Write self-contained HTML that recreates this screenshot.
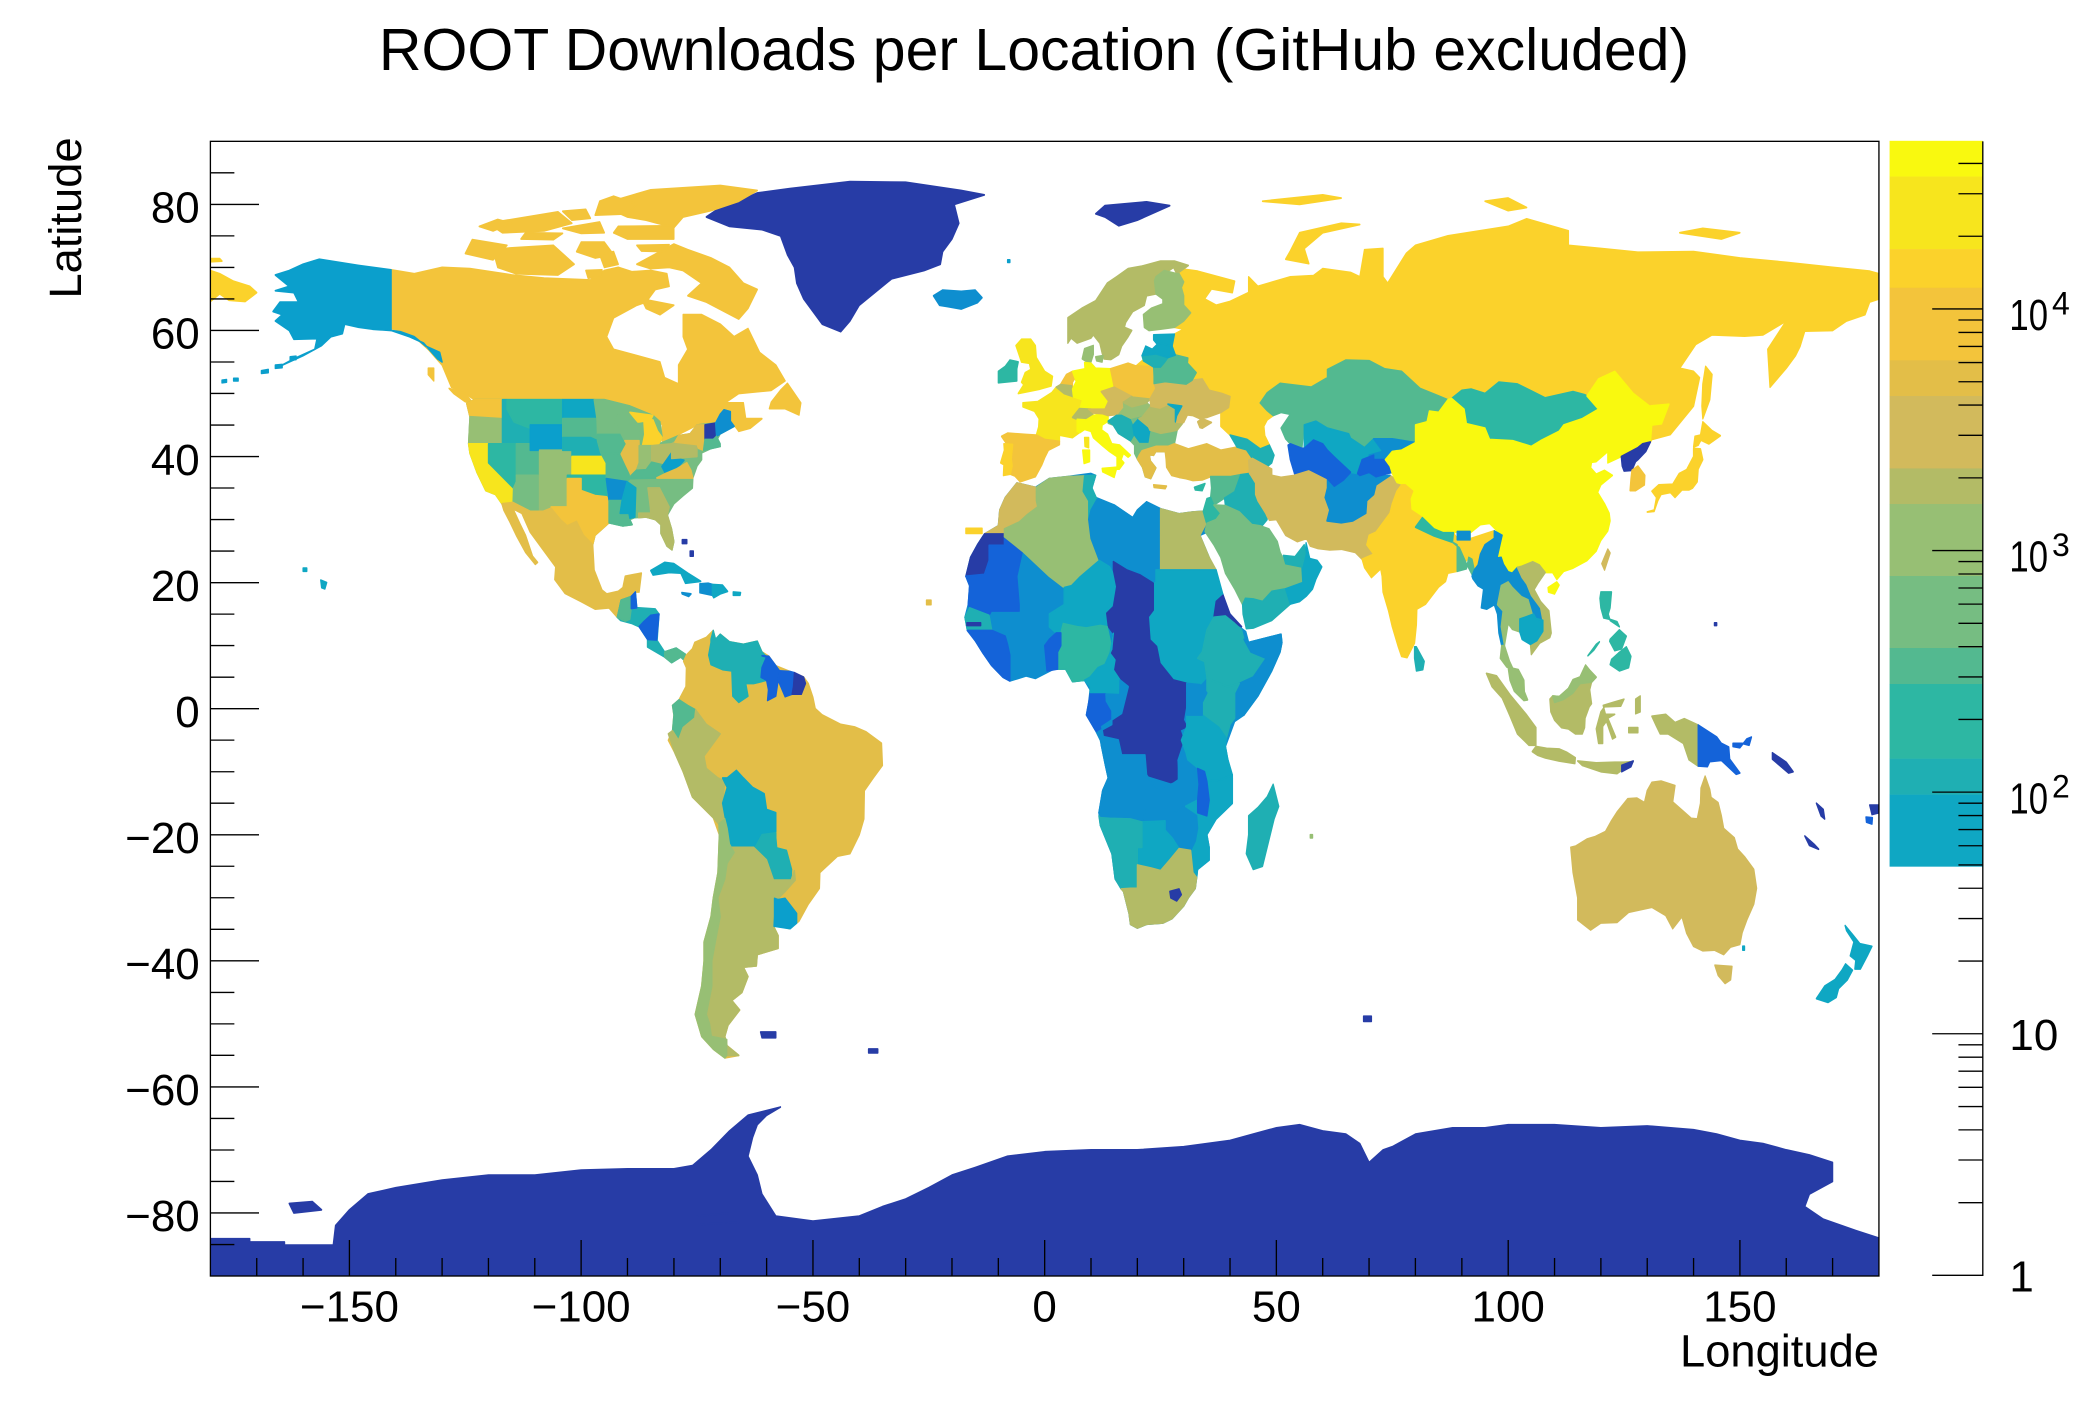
<!DOCTYPE html>
<html><head><meta charset="utf-8"><style>
html,body{margin:0;padding:0;background:#fff}
svg{display:block}
text{font-family:"Liberation Sans",Arial,sans-serif;fill:#000}
.m polygon{stroke-width:.28;stroke-linejoin:round}
.y1{fill:#f9f90f;stroke:#f9f90f}.y2{fill:#f7e51d;stroke:#f7e51d}.y3{fill:#fbd22b;stroke:#fbd22b}.y4{fill:#f3c43b;stroke:#f3c43b}
.g5{fill:#e3be48;stroke:#e3be48}.g6{fill:#d2ba5c;stroke:#d2ba5c}.o7{fill:#b3bb66;stroke:#b3bb66}.o8{fill:#97bf74;stroke:#97bf74}
.g9{fill:#76bd82;stroke:#76bd82}.g10{fill:#53b990;stroke:#53b990}.t11{fill:#2db7a3;stroke:#2db7a3}.t12{fill:#1fafb3;stroke:#1fafb3}
.c13{fill:#0fa7c3;stroke:#0fa7c3}.c14{fill:#0b9fcc;stroke:#0b9fcc}.b14{fill:#0e8ecf;stroke:#0e8ecf}.b15{fill:#1463d9;stroke:#1463d9}.n16{fill:#273ca6;stroke:#273ca6}
</style></head><body>
<svg width="2088" height="1416" viewBox="0 0 1568 1062" preserveAspectRatio="none" xmlns="http://www.w3.org/2000/svg">
<defs><clipPath id="pc"><rect x="158" y="106" width="1253" height="851"/></clipPath></defs>
<rect x="0" y="0" width="1568" height="1062" fill="#fff"/>
<g clip-path="url(#pc)">
<g class="m" transform="matrix(3.4806 0 0 -4.7278 784.5 531.5)">
<!-- Antarctica -->
<polygon class="n16" points="-180,-90 -180,-84.1 -171.5,-84.1 -171.5,-84.6 -164,-84.6 -164,-85.1 -153.5,-85.1 -153,-82 -150,-79.5 -146,-77 -140,-76 -130,-74.8 -120,-74 -110,-74 -100,-73.2 -90,-73 -80,-73 -76,-72.5 -72,-70 -68,-67 -64,-64.5 -57,-63.2 -60,-64.5 -62,-66 -63,-68 -64,-71 -62,-74 -61,-77 -58,-80.5 -50,-81.3 -40,-80.5 -35,-79 -30,-77.8 -25,-76 -20,-74 -15,-72.8 -8,-71 0,-70.3 10,-70 20,-70 30,-69.5 35,-69 40,-68.5 45,-67.5 50,-66.5 55,-66 60,-67 65,-67.5 68,-69 70,-72 73,-70 75,-69.5 80,-67.5 88,-66.5 95,-66.5 100,-66 110,-66 120,-66.5 130,-66.2 140,-66.8 145,-67.5 150,-68.5 155,-69 160,-70 165,-70.8 170,-72 170,-75 165,-77 164,-79 168,-81 175,-82.8 180,-84 180,-90"/>
<polygon class="n16" points="-163,-78.5 -158,-78.2 -156,-79.5 -162,-80"/>
<polygon class="n16" points="-75,-80.5 -68,-80 -66,-81.5 -74,-81.8"/>
<!-- Greenland, Iceland, Svalbard -->
<polygon class="n16" points="-73,78 -68,76.5 -61,76 -57,75 -55.5,72 -54,70 -53.5,67.5 -52,65 -50,63 -48,61 -44,59.8 -42,61.5 -40,64 -37,65.8 -33,68.2 -26,69.5 -22.5,70.5 -22,72.5 -20,74.5 -18.5,77 -19.5,80 -13,81.5 -18,82.2 -30,83.5 -42,83.6 -55,82.5 -62,81.8 -66,80.5 -71,79"/>
<polygon class="b14" points="-24,65.5 -22,66.4 -18,66.2 -15,66.4 -13.5,65.2 -14.5,64.4 -18,63.4 -21,63.8 -22.7,64"/>
<polygon class="n16" points="11,78.5 13,79.8 16,80 22,80.4 27,79.8 20,77.5 16,76.6 13,78"/>
<polygon class="c14" points="-8,71.2 -7.5,71.2 -7.5,70.8 -8,70.8"/>
<!-- Canada -->
<polygon class="y4" points="-141,69.6 -136,69 -130,70 -124,69.8 -115,68.8 -108,68.3 -98,68 -95,69.5 -92,70 -89,69.3 -85,69.5 -81.5,69 -81,67 -84,66.5 -86,64.5 -88,64 -93,62 -94.5,59 -93,57 -88,56 -83,55 -82,52.5 -79,51.5 -79,54.5 -77,57 -78,59 -78,62.5 -74,62.5 -70,61 -67,59 -64,60.3 -61.5,56.5 -58,54.5 -56,52 -59,50.5 -66,50 -69,48.5 -65,48.5 -64.5,46 -61,46 -63.5,44.5 -66,44 -67,45 -69.5,47.5 -71,45 -75,45 -79,43.5 -82.5,42 -82.5,45 -84,46.5 -89,48 -95,49 -123,49 -125,50 -128,51 -130,54.5 -133,57 -136,59 -139,60 -141,60.3"/>
<polygon class="y4" points="-80,73.7 -88,70.5 -85,69.8 -81,70 -78,69.5 -74,67.5 -77,65.5 -73,64.5 -66,61.8 -64,63.5 -62,66.5 -65,67.5 -68,70 -72,71.5 -77,72.8"/>
<polygon class="y4" points="-62,82.2 -70,83 -85,82.3 -92,80.8 -96,80 -90,78 -86,77.5 -80,76.3 -78,78 -72,79 -66,80.5"/>
<polygon class="y4" points="-96,80.5 -93,81.3 -88,80 -90,78.5 -97,78.3"/>
<polygon class="y4" points="-120,77 -105,78.8 -102,77 -108,75.8 -117,75.5"/>
<polygon class="y4" points="-92,76.5 -80,76.6 -80,74.5 -90,74.5 -93,75.5"/>
<polygon class="y4" points="-100,74 -95,74 -93,72 -97,71.5 -101,72.5"/>
<polygon class="y4" points="-118.5,71.3 -117,73 -106,73.5 -101.5,70.5 -105,68.8 -114,69 -118,70"/>
<polygon class="y4" points="-125,72.2 -123.5,74.4 -116,73.5 -119,71.2"/>
<polygon class="y4" points="-104,76.2 -96,77.2 -95,75.5 -100,75.4"/>
<polygon class="y4" points="-87,65 -80,64 -83,62.5 -86,63.5"/>
<polygon class="y4" points="-122,76.5 -118,77.6 -115,77 -119,75.8"/>
<polygon class="y4" points="-104,78.9 -99,79.2 -98,77.8 -102,77.5"/>
<polygon class="y4" points="-99,69.5 -95.5,69.6 -95.5,68.5 -98.5,68.3"/>
<polygon class="y4" points="-96,72 -93,72.5 -92,70.5 -95,70"/>
<polygon class="y4" points="-112,75.5 -104,75.4 -106,74.4 -113,74.5"/>
<polygon class="y4" points="-88,73.5 -81,73.6 -82,72.5 -87,72.6"/>
<polygon class="y4" points="-59.4,47.6 -56,47.6 -53,46.6 -52.6,48.5 -55.5,51.6 -57,50.5 -59,48.6"/>
<polygon class="y4" points="-128.5,50.8 -125,50 -123.3,48.4 -125,48.7 -127.5,50"/>
<polygon class="y4" points="-133,54 -131.8,54 -131.8,52 -133,53"/>
<!-- Alaska / Chukotka -->
<polygon class="c14" points="-141,69.6 -148,70.3 -156.5,71.3 -160,70.5 -163,69.5 -166,68.8 -163,67 -166,66.3 -162,66 -161,64.5 -165,64.5 -166.5,63 -164.5,62.5 -166,61.5 -163,60 -162,58.6 -157,58.7 -157.5,57 -162,55.5 -164.5,54.5 -160,56 -156,57.6 -154,59 -151.5,59.5 -151,61 -148,60.5 -145,60.2 -141,60"/>
<polygon class="c14" points="-141,60 -137,59 -134,58 -131,55.5 -130,55 -130.5,56.5 -133.5,57.5 -136,59 -139,59.8"/>
<polygon class="c14" points="-177.5,52.1 -176.5,52.2 -176.5,51.8 -177.5,51.7"/>
<polygon class="c14" points="-175,52.4 -174,52.4 -174,52 -175,52"/>
<polygon class="c14" points="-169,53.6 -167.5,53.8 -167.5,53.3 -169,53.2"/>
<polygon class="c14" points="-166,54.5 -164.5,54.6 -164.5,54.1 -166,54"/>
<polygon class="c14" points="-162.8,55.8 -161.5,55.9 -161.5,55.4 -162.8,55.3"/>
<polygon class="y3" points="-180,64.6 -180,69.5 -178,69 -175,67.8 -171.5,67 -170,66 -172.5,64.6 -176,64.8 -178,65.8"/>
<polygon class="y3" points="-180,71.4 -178,71.4 -177.5,71 -180,70.9"/>
<!-- USA -->
<polygon class="g9" points="-124.7,48.4 -123,49 -95,49 -89.5,48 -84.5,46.5 -83,45.5 -82.5,43 -83.2,42 -79,43.3 -76.5,43.6 -75,45 -71,45.3 -70,46.7 -69.2,47.4 -67.8,47.1 -67.8,45.6 -67,44.8 -70,43.6 -70.8,42.5 -70,41.6 -71.9,41.3 -74,40.6 -74,39.5 -75,38.5 -75.9,36.6 -76,35 -78,33.8 -80,32.5 -81.4,30.7 -80.5,28.5 -80,26.5 -80.4,25.2 -81.5,25.8 -82.8,27.8 -82.8,29.2 -84,30 -86,30.4 -88.5,30.3 -89.5,30 -89,29.2 -91,29 -94,29.5 -97,27.5 -97.5,26 -99.5,27.5 -101,29.7 -103,29 -104.5,30 -106.5,31.8 -108.2,31.3 -111,31.3 -114.7,32.7 -117.1,32.5 -118.5,34 -120.6,34.6 -122.5,37.5 -124,40.5 -124.3,42 -124,46.3"/>
<polygon class="y4" points="-124.7,48.4 -123,49 -117,49 -117,46 -124,46.3"/>
<polygon class="o8" points="-124,46.3 -117,46 -116.5,45.5 -117,42 -124.3,42"/>
<polygon class="y2" points="-124.3,42 -120,42 -120,39 -114.6,35 -114.7,32.7 -117.1,32.5 -118.5,34 -120.6,34.6 -122.5,37.5 -124,40.5"/>
<polygon class="t12" points="-117,49 -116,49 -116,47.5 -114.5,45.5 -111,44.5 -111,42 -117,42 -117,46"/>
<polygon class="t11" points="-116,49 -104,49 -104,45 -111,45 -111,44.5 -114.5,45.5 -116,47.5"/>
<polygon class="t11" points="-120,42 -114,42 -114,36 -114.6,35 -120,39"/>
<polygon class="g10" points="-114,42 -111,42 -111,41 -109,41 -109,37 -114,37"/>
<polygon class="c14" points="-111,45 -104,45 -104,41 -111,41"/>
<polygon class="o8" points="-109,41 -102,41 -102,37 -109,37"/>
<polygon class="g9" points="-114.6,35 -114,36 -114,37 -109,37 -109,31.3 -111,31.3 -114.7,32.7"/>
<polygon class="o8" points="-109,37 -103,37 -103,32 -106.5,32 -106.5,31.8 -108.2,31.3 -109,31.3"/>
<polygon class="c13" points="-104,49 -97.2,49 -96.6,46 -104,46"/>
<polygon class="g10" points="-104,46 -96.6,46 -96.5,42.5 -98,43 -104,43"/>
<polygon class="t12" points="-104,43 -98,43 -96.5,42.5 -95.5,40 -102,40 -102,41 -104,41"/>
<polygon class="y2" points="-102,40 -95.3,40 -94.6,39 -94.6,37 -102,37"/>
<polygon class="t11" points="-103,37 -94.6,37 -94.5,33.6 -97,33.8 -100,34.6 -100,36.5 -103,36.5"/>
<polygon class="y4" points="-103,36.5 -100,36.5 -100,34.6 -97,33.8 -94.5,33.6 -94,33 -94,29.5 -97,27.5 -97.5,26 -99.5,27.5 -101,29.7 -103,29 -104.5,30 -106.5,31.8 -106.5,32 -103,32"/>
<polygon class="g9" points="-97.2,49 -95,49 -89.5,48 -92,46.7 -92.8,45.5 -91.3,43.5 -96.5,43.5 -96.6,46"/>
<polygon class="g10" points="-96.5,43.5 -91.3,43.5 -90.2,42 -91.4,40.4 -95.8,40.6 -96.5,42.5"/>
<polygon class="g10" points="-95.8,40.6 -91.4,40.4 -90.2,38.5 -89.5,36.5 -90.1,36 -94.6,36.5 -94.6,39"/>
<polygon class="b14" points="-94.6,36.5 -90.1,36 -91.2,33 -94,33"/>
<polygon class="g10" points="-94,33 -91.2,33 -91.6,31 -89.7,31 -89.5,30 -89,29.2 -91,29 -94,29.5"/>
<polygon class="c13" points="-91.2,33 -90.1,36 -88.2,35 -88.4,30.4 -89.5,30.2 -89.7,31 -91.6,31"/>
<polygon class="g9" points="-92.8,45.5 -92,46.7 -89.5,47 -87.8,45.5 -87.5,42.5 -90.6,42.5 -91.3,43.5"/>
<polygon class="y3" points="-89.5,47 -84.5,46.5 -85,45.8 -87.5,45.5 -87.8,45.5"/>
<polygon class="y3" points="-86.5,45.8 -84.5,45.8 -83.5,44 -82.5,43 -83.5,41.7 -86.8,41.7 -86.3,43.5"/>
<polygon class="g5" points="-90.6,42.5 -87.5,42.5 -87.5,39 -88.1,37.5 -89.2,37 -90.2,38.5 -91.4,40.4 -90.2,42"/>
<polygon class="o8" points="-87.5,41.7 -84.8,41.7 -84.8,39.1 -86,37.9 -88.1,37.8 -87.5,39"/>
<polygon class="o7" points="-84.8,41.7 -80.5,42 -80.5,40.6 -82,38.6 -84.8,39.1"/>
<polygon class="g10" points="-89.2,37 -88.1,37.8 -86,37.9 -84.8,39.1 -82,38.6 -82,37.5 -83.7,36.6 -89.5,36.5"/>
<polygon class="o7" points="-85.6,35 -83.1,35 -81,32 -81.4,30.7 -82,30.6 -85,31 -85.1,32"/>
<polygon class="o7" points="-87.6,31 -85,31 -82,30.6 -81.4,30.7 -80.5,28.5 -80,26.5 -80.4,25.2 -81.5,25.8 -82.8,27.8 -82.8,29.2 -84,30 -86,30.4 -87.6,30.3"/>
<polygon class="c14" points="-82.6,38.4 -80.5,40.6 -79.5,39.7 -77.8,39.4 -79.5,38 -81.8,37.3"/>
<polygon class="g5" points="-83.7,36.6 -75.9,36.6 -76.3,37.8 -77.2,39 -79.5,38 -81.8,37.3"/>
<polygon class="o7" points="-80.5,42 -79.8,42.3 -75,41.9 -75,40 -80.5,39.7"/>
<polygon class="g5" points="-79.8,42.3 -79,43.3 -76.5,43.6 -75,45 -73.3,45 -73.3,42.7 -73.6,41 -74.7,41.3 -75,41.9"/>
<polygon class="n16" points="-73.3,45 -71,45.3 -70.8,43.2 -71.5,42.7 -73.3,42.7"/>
<polygon class="b14" points="-71,45.3 -70,46.7 -69.2,47.4 -67.8,47.1 -67.8,45.6 -67,44.8 -70,43.6 -70.8,43.2"/>
<polygon class="g10" points="-73.6,41 -73.3,42.7 -71.5,42.7 -70.8,43.2 -70,42 -70,41.6 -71.9,41.3"/>
<polygon class="c13" points="-160,22.3 -159.2,22.3 -159.2,21.8 -160,21.8"/>
<polygon class="c13" points="-156.2,20.4 -154.9,20 -155.3,19 -156,19.2"/>
<!-- Mexico, Central America, Caribbean -->
<polygon class="g5" points="-117.1,32.5 -114.7,32.7 -111,31.3 -108.2,31.3 -106.5,31.8 -104.5,30 -103,29 -101,29.7 -99.5,27.5 -97.5,26 -97.2,22 -95.5,18.8 -94.5,18.2 -92,18.6 -91,19.2 -90.5,21 -87,21.5 -87.5,18.5 -88.3,18.5 -89,17.8 -91.4,17.2 -90.5,16 -92.2,14.5 -94,16 -97,15.8 -100,17 -103.5,18.3 -105.7,20.5 -105.5,22.5 -108,25 -109.5,26.5 -111,28 -112.8,31 -114.7,31.7 -113.2,29.3 -112,27.5 -110.5,24.2 -109.4,23.2 -109.9,22.9 -112,24.8 -114,27.5 -115.5,29.8 -116.7,31.5"/>
<polygon class="t12" points="-92.2,14.5 -91.4,17.2 -89,17.8 -88.3,18.5 -88,16 -84,15.8 -83.2,15 -83.5,12 -83.6,10.8 -82,9 -79.5,9.6 -77.5,8.6 -77.5,7.5 -78.5,8.2 -80.5,7.3 -82,8.2 -85.7,9.8 -85.7,11 -87.5,13 -89,13.5 -91.5,14"/>
<polygon class="b15" points="-87.5,13 -85.7,11 -83.7,10.9 -83.2,15 -85,14.8 -86.5,13.8"/>
<polygon class="g10" points="-92.2,14.5 -91.4,17.2 -89.2,17.8 -89.2,15.9 -89.5,14.2 -90.5,13.9"/>
<polygon class="b15" points="-89.2,17.8 -88.3,18.5 -88,16 -89.2,15.9"/>
<polygon class="g10" points="-82,9 -79.5,9.6 -77.5,8.6 -77.5,7.5 -78.5,8.2 -80.5,7.3 -82,8.2"/>
<polygon class="c13" points="-85,21.9 -82,23.2 -80,23 -77,21.5 -74.2,20.2 -77.5,19.9 -78.5,21.5 -81,21.6 -84.5,21.2"/>
<polygon class="b14" points="-74.4,19.8 -72.6,19.9 -71.7,19.7 -71.7,18 -74.4,18.4"/>
<polygon class="c13" points="-71.7,19.7 -69.5,19.6 -68.4,18.6 -70,18.2 -71.4,17.6 -71.7,18"/>
<polygon class="b14" points="-78.3,18.4 -76.3,18.2 -76.8,17.8 -78.2,18.2"/>
<polygon class="c13" points="-67.2,18.5 -65.6,18.4 -65.7,18 -67.2,18"/>
<polygon class="n16" points="-78.2,26.8 -77.2,26.8 -77.2,26.2 -78.2,26.2"/>
<polygon class="n16" points="-76.5,25 -75.8,25 -75.8,24.2 -76.5,24.2"/>
<!-- South America -->
<polygon class="g5" points="-77.3,8.5 -76,9.5 -75.5,10.5 -73,11.3 -71.5,12.4 -71,11 -70,11.8 -68,10.6 -65,10.2 -62,10.7 -61,9 -59.5,8.3 -58,6.8 -55,5.9 -52,5 -51,4 -50,1.8 -49.5,0 -48,-1 -44,-2.5 -41,-2.9 -38.5,-3.7 -35.2,-5.5 -35,-9 -37,-11 -38.9,-13 -39,-17.5 -40,-20 -42,-23 -44.7,-23.4 -48.5,-26 -48.6,-28.5 -51,-31 -53,-33.7 -55,-34.9 -57.5,-34.5 -58.5,-34.5 -57.5,-36 -57.5,-38 -62,-39 -62.2,-40.8 -65,-41 -64,-42.5 -65.3,-45 -67.5,-46.3 -65.8,-47.8 -68.3,-50.2 -69,-52 -68.5,-53.5 -66,-55 -69,-55.4 -71.5,-54 -74,-52 -75.4,-48.5 -74,-44 -73.5,-40 -73.5,-37 -72,-33 -71.5,-30 -70.5,-26 -70.2,-20 -71.5,-17.3 -76,-14 -78,-10 -79.8,-7 -81.2,-5 -80.3,-3.5 -80,-1 -80.3,0.5 -78.9,1.4 -77.4,3.5 -77.3,6.5 -77.9,7.5"/>
<polygon class="t12" points="-72,11 -71.5,12.4 -71,11 -70,11.8 -68,10.6 -65,10.2 -62,10.7 -61,9 -60,8.2 -61,6.5 -61.2,5 -60,4.5 -62.8,4 -64.5,4 -64,2 -66,1 -67.3,2 -67.5,6 -69.5,6.2 -72,7 -72.5,8.5 -72,10.5"/>
<polygon class="b15" points="-61,8.4 -59.5,8.3 -58,6.8 -57.2,6 -57.5,4.5 -58,2 -59.8,1.3 -59.6,3 -60,4.5 -61.2,5 -61,6.5 -60,8.2"/>
<polygon class="b15" points="-57.2,6 -55,5.9 -54,5.7 -54.2,3.5 -54.5,2.3 -56,1.9 -57.5,4.5"/>
<polygon class="n16" points="-54,5.7 -52,5 -51.6,4 -52.5,2.3 -54.5,2.3 -54.2,3.5"/>
<polygon class="g10" points="-80.3,0.5 -78.9,1.4 -77,0.5 -75.3,-0.2 -75.5,-1.5 -78,-3 -79,-5 -80.3,-3.5 -80,-1"/>
<polygon class="o7" points="-81.2,-4 -80.3,-3.5 -79,-5 -78,-3 -75.5,-1.5 -75.3,-0.2 -73,-2.5 -70,-4 -73.5,-7.5 -73,-9.5 -70.5,-11 -69,-11.5 -69.5,-15 -69,-17 -70.3,-18.3 -71.5,-17.3 -76,-14 -78,-10 -79.8,-7"/>
<polygon class="c13" points="-69.5,-11 -68.5,-12.5 -69.5,-15 -69,-17 -68.5,-19 -68,-21.5 -67,-22.8 -65,-22 -62.8,-22 -61,-20 -58,-19.5 -58,-16.5 -60,-16 -60.5,-13.5 -63,-12.5 -65,-11 -66.5,-9.8 -68.5,-11"/>
<polygon class="t12" points="-62.6,-22.2 -61,-20 -58,-19.7 -58,-20.5 -57.8,-22.1 -55.7,-22.5 -54.6,-25.5 -54.7,-27.2 -58.5,-27.2 -60,-24 -62,-22.7"/>
<polygon class="o7" points="-68,-22 -65,-22 -62.8,-22 -60,-24 -58.5,-27.2 -54.7,-27.2 -54,-25.7 -53.8,-27.2 -56,-29 -58,-30.5 -58.4,-33.5 -58.5,-34.5 -57.5,-36 -57.5,-38 -62,-39 -62.2,-40.8 -65,-41 -64,-42.5 -65.3,-45 -67.5,-46.3 -65.8,-47.8 -68.3,-50.2 -69,-52 -68.5,-53.5 -66,-55 -68.6,-55 -68.6,-52.5 -71.9,-52 -72.3,-50 -73,-48.5 -71.8,-44 -71.8,-40 -70.8,-36 -70,-33 -70.5,-30 -69,-27 -68.5,-24.5"/>
<polygon class="c14" points="-58.3,-30.1 -57.5,-30.3 -56,-30.1 -53.5,-32.5 -53.5,-34 -54.9,-34.9 -58.4,-34.5 -58.3,-33"/>
<polygon class="o8" points="-70.3,-18.3 -69,-17.5 -68.5,-19 -68,-21.5 -67,-22.8 -68.5,-24.5 -69,-27 -70.5,-30 -70,-33 -70.8,-36 -71.8,-40 -71.8,-44 -73,-48.5 -72.3,-50 -71.9,-52 -68.6,-52.5 -68.6,-55 -69,-55.4 -71.5,-54 -74,-52 -75.4,-48.5 -74,-44 -73.5,-40 -73.5,-37 -72,-33 -71.5,-30 -70.5,-26 -70.2,-20"/>
<polygon class="n16" points="-61.3,-51.3 -58,-51.3 -58,-52.2 -61,-52.2"/>
<polygon class="n16" points="-38,-54 -36,-54 -36,-54.6 -38,-54.6"/>
<!-- Africa -->
<polygon class="b14" points="-17,21 -16,24 -14.5,26 -13,27.7 -10,29 -9.7,31.5 -8.5,33.5 -6,35.8 -2,35.1 1,36.5 5,36.8 10,37.3 11,37 10.2,35 11,33.5 15,32.3 19,30.3 20,31.5 22,32.8 25,31.7 29,30.9 32,31.2 34,31.3 35,28 33.5,27.5 35.5,24 37,21 38.5,18 39.5,15.5 42,13 43.4,12.2 44,10.5 51,11.8 51.2,10.5 50.8,9 49,6 46,2 43,-1 41,-2 40,-4 39,-6 39.5,-8 40.5,-11 40.5,-15 37,-17.5 35,-20 35.5,-22 35.5,-24 33,-25.5 32.8,-26.8 32.5,-28.5 31,-30 30,-31.3 27.5,-33.3 25.5,-34 22,-34.2 20,-34.8 18.5,-34.2 18.2,-32.5 17,-29 15.2,-27 14.5,-23 12,-18.5 11.7,-16.5 12.5,-13 13.7,-11 13.1,-9 12.3,-6.1 12,-5 11,-3.5 9,-1 9.5,1 9.8,3 8.6,4.5 6,4.3 4.5,6.3 2,6.3 -2,4.8 -4,5.2 -7.5,4.4 -9,5 -11.5,6.9 -13.3,8.8 -15,10.8 -16.7,12.5 -17.2,14.5 -16.5,16.5 -16.2,19.5"/>
<polygon class="g6" points="-13,27.7 -10,29 -9.7,31.5 -8.5,33.5 -6,35.8 -2,35.1 -1.8,33 -1.5,32 -3.7,30.8 -5.5,29.6 -8.7,28.5 -8.7,27.7"/>
<polygon class="n16" points="-17,21 -16,24 -14.5,26 -13,27.7 -8.7,27.7 -8.7,25.9 -12,25.9 -12,23.5 -13,21.3"/>
<polygon class="b15" points="-17,21 -16.2,19.5 -16.5,16.5 -16.2,16 -12,14.8 -11.5,15.5 -5.5,15.5 -5.5,16.5 -6,21 -4.8,25 -8.7,27.3 -8.7,25.9 -12,25.9 -12,23.5 -13,21.3"/>
<polygon class="o8" points="-1.8,35.1 1,36.5 5,36.8 8.6,36.9 8.3,34.5 9.5,33 9.5,30 10,27 11.8,23.5 7.5,20.8 5.8,19.5 4.2,19.2 1,21 -4.8,25 -8.7,27.3 -8.7,28.5 -5.5,29.6 -3.7,30.8 -1.5,32 -1.8,33"/>
<polygon class="t12" points="8.6,36.9 11,37 10.2,35 11.3,33.2 10,31.5 9.5,30 9.5,33 8.3,34.5"/>
<polygon class="b14" points="11.3,33.2 15,32.3 19,30.3 20,31.5 22,32.8 25,31.7 25,20 24,19.5 24,20 15,23.5 14,22.5 11.8,23.5 10,27 9.5,30 10,31.5"/>
<polygon class="o7" points="25,31.7 29,30.9 32,31.2 34.2,31.3 34.9,29.5 33.5,27.5 35.5,24 37,22 25,22"/>
<polygon class="c13" points="24,22 37,22 38.5,18 37,17 36.5,14.5 35,12.5 34,9 33,8 34.5,7.5 35,5 33.5,3.8 30.7,3.6 27.76,4.55 24.89,7.19 24.17,9.84 22.73,10.89 22.37,14.6 23.45,15.65 23.45,19.88 24,20"/>
<polygon class="c13" points="4.2,19.2 5.8,19.5 7.5,20.8 11.8,23.5 14,22.5 15.5,20.5 15.5,16 14,13.5 13.5,13 12,13.2 9,12.8 7,13 4,13.5 3.5,12 2.5,12 1,13 1,15 4.2,16.5"/>
<polygon class="n16" points="14.82,23.32 17.7,22 20.57,21.21 23.45,19.88 23.45,15.65 22.37,14.6 22.73,10.89 24.17,9.84 24.89,7.19 27.76,4.55 30.64,4.02 30.64,1.38 29.92,-1.8 30.64,-2.85 29.2,-3.38 29.92,-4.97 28.48,-8.14 28.84,-11.31 27.76,-11.84 22.01,-10.52 21.65,-7.35 16.62,-7.35 15.9,-4.97 12.66,-4.44 12.3,-2.85 16.62,-0.74 17.7,2.43 18.05,3.49 16.26,4.55 14.82,6.13 15.18,7.72 14.1,8.78 14.82,11.95 13.74,13.01 13.38,15.12 14.82,16.18 15.54,19.36 14.82,22"/>
<polygon class="n16" points="36.5,14.5 37,17 38.5,18 40,15 42.5,13 41,13.5 39,14.7"/>
<polygon class="t12" points="36.5,14.5 39,14.7 41,13.5 42.5,12.5 43,11 44.5,9 47.8,8 45,5 42,4 39.5,3.5 36,4.5 35,5 34.5,7.5 33,8 34,9 35,12.5"/>
<polygon class="b14" points="43,11 44,10.5 51,11.8 51.2,10.5 50.8,9 49,6 46,2 43,-1 41,-1.5 41,2.5 42,4 45,5 47.8,8 44.5,9"/>
<polygon class="t12" points="35,5 36,4.5 39.5,3.5 42,4 41,2.5 41,-1.5 40,-2.5 39.2,-4.7 37.6,-3 34,-1 34,1 35,2.5"/>
<polygon class="c13" points="30.64,-1 34,-1 37.6,-3 39.2,-4.7 39,-6 39.5,-8 40.5,-10.5 38,-11.3 35,-11.5 33.5,-10 31,-8.5 30.5,-7 29.5,-5 30.64,-2.85"/>
<polygon class="b14" points="30.64,4.02 33.5,3.8 35,2.5 34,1 34,-1 30.64,-1 30.64,1.38"/>
<polygon class="t11" points="3.5,12 4,13.5 7,13 9,12.8 12,13.2 13.5,13 14.5,9.5 13,7 11.5,6.5 9.8,5 8.6,4.5 6,4.3 4.5,6.3 2.8,6.3 2.8,9 3.5,10"/>
<polygon class="c13" points="8.6,4.5 9.8,5 11.5,6.5 13,7 14.5,9.5 14.82,11.95 14.1,8.78 15.18,7.72 14.82,6.13 16.26,4.55 16.2,2.2 11.3,2.2 9.8,2.6 9.8,3.5"/>
<polygon class="b15" points="9.8,2.3 11.3,2.3 13.2,2.3 13.3,1.2 14.5,-0.3 14.5,-2.5 11.5,-3.7 11,-3.5 9,-1 9.5,1"/>
<polygon class="b14" points="13.3,1.2 13.2,2.3 16.2,2.2 16.26,4.55 18.05,3.49 17.7,2.43 16.62,-0.74 12.3,-2.85 12.66,-4.44 11.5,-3.7 14.5,-2.5 14.5,-0.3"/>
<polygon class="b14" points="12.3,-6.1 13.1,-9 13.7,-11 12.5,-13 11.7,-16.5 12,-17.3 14,-17.4 18.5,-17.5 21,-18 21.9,-16 21.9,-12.9 24,-12.9 22,-10.5 21.65,-7.35 16.62,-7.35 15.9,-4.97 12.66,-4.44 12.2,-5.8"/>
<polygon class="b14" points="21.9,-12.9 21.9,-16 23.5,-17.9 26,-17.8 28,-16.5 30,-15.6 33.3,-14 33.5,-10 31,-8.5 30.5,-8.2 28.84,-8.5 28.84,-11.31 27.76,-11.84 24,-12.9"/>
<polygon class="c13" points="40.5,-10.5 40.5,-15 37,-17.5 35,-20 35.5,-22 35.5,-24 33,-25.5 32.8,-26.8 32,-26 31.5,-22.5 32.5,-21 33,-19 32.8,-17 30.5,-16 30.4,-15.5 33,-14.5 33,-16.5 35,-17 35.5,-14.5 35,-11.5 38,-11.3"/>
<polygon class="b15" points="33,-9.5 34.5,-10 35,-11.5 35.5,-14.5 35,-17 33,-16.5 33,-14.5 33.3,-12"/>
<polygon class="b14" points="26,-17.8 28,-16.5 30,-15.6 32.8,-17 33,-19 32.5,-21 31.5,-22.5 29,-22.2 27.5,-20.5 26,-19.3"/>
<polygon class="c13" points="20,-18 23.5,-17.9 26,-17.8 26,-19.3 27.5,-20.5 29,-22.2 27,-24 25,-25.7 23,-25.3 20,-24.8 20,-22 21,-22 21,-18"/>
<polygon class="t12" points="12,-17.3 14,-17.4 18.5,-17.5 21,-18 21,-22 20,-22 20,-24.8 20,-28.5 18.5,-28.5 16.5,-28.6 15.2,-27 14.5,-23 12,-18.5 11.7,-17"/>
<polygon class="o7" points="16.5,-28.6 18.5,-28.5 20,-28.5 20,-24.8 23,-25.3 25,-25.7 27,-24 29,-22.2 31.5,-22.5 32,-26 32.8,-26.8 32.5,-28.5 31,-30 30,-31.3 27.5,-33.3 25.5,-34 22,-34.2 20,-34.8 18.5,-34.2 18.2,-32.5 17,-29"/>
<polygon class="n16" points="27,-29 29,-28.6 29.5,-29.5 28.5,-30.5 27.2,-30"/>
<polygon class="t12" points="-17.2,14.5 -16.7,12.5 -11.4,12.4 -12,14.8 -16.2,16"/>
<polygon class="n16" points="-16.8,13.6 -13.8,13.6 -13.8,13.2 -16.8,13.2"/>
<polygon class="b15" points="-16.7,12.4 -11.4,12.4 -8.5,11.5 -8,10.2 -7.5,8.5 -7.5,5.5 -7.5,4.4 -9,5 -11.5,6.9 -13.3,8.8 -15,10.8"/>
<polygon class="b15" points="0.5,6 2.8,6.3 2.8,9 3.5,10 3.5,12 2.5,12 1,11 0,10"/>
<polygon class="t12" points="49.3,-12 50.5,-15.5 49.5,-17.5 48,-22 47,-25 45,-25.5 43.5,-23 44,-20 44,-17 46,-15.7 48,-14"/>
<!-- Russia -->
<polygon class="y3" points="30,69.7 33,69.4 41,67.8 40.5,66 36,66.6 34.5,65 37,64 40,64.6 44,66 44,68.5 46,67 53,68.5 58,68.7 60,69.8 66,69.2 68,68.5 69,72.8 73,73 73,68.5 74,67.5 78,72.2 80,73.5 87,75 100,76.5 104,77.7 113,75.8 113,73.5 120,73 128,72.4 140,72.5 150,71.5 160,70.8 170,70 178,69.4 180,69 180,65 178,64.5 177,62.5 173,61.5 170,60 164,59.9 163,57.5 162,56 160,54 156.5,51 156,57 160,61.5 155,59.3 151,59.1 144,59.3 140.5,57.8 137,54 140,53.5 141.3,52.5 140,48 135,43.5 131,42.7 130.7,42.3 131,45 133.1,45.2 134.7,48.3 130.5,48 127,50 123,53.5 119.5,52.3 117,49.6 114,50.3 108,49.3 98,51.8 97,49.7 91,50.5 88,49.5 87,49 85,49.6 81,50.8 77,53.5 73.4,53.9 70,55.2 65,55.3 61,53.8 61,52.5 57.5,51 50.8,51.6 48,50.1 46.5,48.5 48,47.3 49.3,46.5 48,45.8 47.3,44.8 47.5,43.3 48.5,41.8 46.5,41.2 43.7,42.7 40,43.4 38,44.8 38,47 39.7,47.8 40,49.5 38.2,50 35.5,50.5 34,52.3 31.8,52.1 32.7,53.3 30.8,54.8 30.9,55.6 28.2,56.1 27.5,57.5 28,59.4 30,60.2 28,60.5 30,61.5 31.5,62.8 30,64 30,65.5 29.5,66.8 30,67.7 29,69"/>
<polygon class="y3" points="52,71.3 57,70.6 56,73 60,75.5 68,76.8 64,77 55,75.5 53,72.6"/>
<polygon class="y3" points="95,80.5 100,79 104,79.5 100,81"/>
<polygon class="y3" points="137,75.5 142,76.2 150,75.5 146,74.5"/>
<polygon class="y3" points="47,80.5 60,81.5 64,81 55,80"/>
<polygon class="y3" points="142,46 143.5,49 144,53 142.6,54.3 142,51.5 141.8,48"/>
<polygon class="y3" points="19.8,54.4 22.8,54.4 22.8,55.1 21.2,55.3"/>
<!-- Europe -->
<polygon class="o7" points="5,58 5,62 8,63.5 11,64.7 13.5,67.5 15.5,68.5 18,69.8 21,70.2 25,71 28,71 31,70.3 28.5,69 27.8,70 25,68.6 23.7,67.9 24,65.8 22,65.5 21.5,64 19,63 17.5,61.3 17.2,60.5 18.8,60 18,59 16.6,57.5 16,56.2 14.3,55.4 12.8,55.5 12.4,56.4 11.9,58 10.5,59.3 10,58.8 7,58 5.7,58.8"/>
<polygon class="o8" points="21.5,60.5 22.5,60 25,60.2 28,60.5 30,61.5 31.5,62.8 30,64 30,65.5 29.5,66.8 30,67.7 29,69 28.5,69 25.8,69.5 24,68.5 23.7,67.9 24,65.8 25.5,65 25.5,64.2 23,63.5 21.3,62.5"/>
<polygon class="o8" points="8.1,55.5 8.6,57.1 10.5,57.6 10.5,56.2 10,55 9.6,54.8"/>
<polygon class="o8" points="11,55.8 12.6,56 12.4,55 11.2,55.2"/>
<polygon class="t11" points="-10,51.7 -6,52 -6,53.9 -5.7,55 -7.5,55.3 -8.5,54.3 -10,53.5"/>
<polygon class="y2" points="-5,58.6 -3,58.6 -2,57.6 -1.8,55.7 0,53.5 1.7,52.7 1.4,51.2 -1,50.7 -5.7,50 -4.5,51.4 -5,51.8 -4.2,53.3 -3,53.8 -3.3,54.8 -5,55 -5.6,56.3 -6.2,57.6"/>
<polygon class="y2" points="-4.7,48.5 -1.5,48.7 1.5,50.1 2.5,51 4.2,50 6,49.5 8.2,49 7.5,47.6 6,46.2 7,45.9 7,44 7.5,43.8 6,43 3.2,43.4 3.2,42.4 1.8,42.5 0,42.7 -1.8,43.4 -1.3,44.7 -1.2,46 -2.2,47.2 -4.7,47.9"/>
<polygon class="y4" points="-9.3,43.2 -8,43.7 -4,43.5 -1.8,43.4 0,42.7 3.2,42.4 3.2,41.9 0.8,41 0,39.8 -0.6,38.7 -2,36.8 -5.3,36 -6.4,36.9 -7.4,37.2 -7,38.5 -7.2,39.6 -6.9,41.9 -8.2,42"/>
<polygon class="y3" points="-8.8,42 -6.9,41.9 -7.2,39.6 -7,38.5 -7.4,37.2 -8.9,37 -8.8,38.7 -9.5,39 -8.7,41"/>
<polygon class="y4" points="3.4,51.4 4.7,53 6,53.5 7.2,53.2 6,51.8 6,50.8 5.8,51.2"/>
<polygon class="o7" points="2.5,51 3.4,51.4 5.8,51.2 6,50.7 6.2,49.5 4.2,50"/>
<polygon class="y1" points="6,53.5 8.7,53.9 8.6,54.9 10,54.8 11,54 14.2,53.9 14.6,52.5 15,51 13,50.3 12.2,50.3 13.8,48.8 13,47.5 10,47.5 7.6,47.6 8.2,49 6.2,49.5 6,50.7 6.8,51.9"/>
<polygon class="o7" points="6,46.2 7.5,47.6 10,47.5 10.5,46.5 9,45.8 7,45.9"/>
<polygon class="y1" points="7,45.9 9,45.8 10.5,46.5 12.5,46.8 13.7,46.5 13.7,45.6 12.4,45 12.3,44.2 13.6,43.5 14.5,42 16.2,41.8 18.5,40.2 18,39.9 17,40.5 16.5,39.5 17.1,39 16.1,38 15.6,38 15.6,40 14,40.8 12.5,41.7 10.5,43 10,44 8.6,44.3 7.6,43.8 7,44"/>
<polygon class="y1" points="12.4,38.1 15.6,38.3 15,36.7 12.5,37.6"/>
<polygon class="y1" points="8.2,41 9.7,41 9.7,39.2 8.5,38.9"/>
<polygon class="y2" points="8.6,43 9.5,43 9.5,41.4 8.7,41.6"/>
<polygon class="y4" points="14.2,53.9 18,54.8 19.5,54.4 23.5,54.2 23.6,52.7 24,50.8 22.7,49.1 19,49.4 18.8,49.5 15,51 14.6,52.5"/>
<polygon class="g6" points="12.2,50.3 15,51 18.8,49.5 17,48.6 15,49 13.8,48.8"/>
<polygon class="g6" points="9.5,47.5 13,47.5 13.8,48.8 15,49 17,48.6 17.1,47.7 16,46.7 13.7,46.5 12.5,46.8 10.5,46.9"/>
<polygon class="o8" points="16,46.7 17.1,47.7 17,48.6 18.8,47.9 22,48.5 22.9,48 21,46.2 20,46.1 18.5,45.8 16.6,46.5"/>
<polygon class="o7" points="17,48.6 18.8,49.5 19,49.4 22.7,49.1 22,48.5 18.8,47.9"/>
<polygon class="g9" points="13.7,45.6 15.5,46.5 16.6,46.5 18.5,45.8 20,46.1 21,46.2 22.4,44.7 22.7,44.2 25,43.7 27.4,44 28.6,44.2 28,42 26.5,41.3 26,40.8 24,40.8 23.5,40.2 22.6,40.3 22.8,39.3 24,38.2 22.9,36.5 21.7,36.8 21.1,38.3 20,39.6 19.4,40.5 19.4,41.8 18.5,42.5 17,43.2 15.9,43.7 14.8,45 13.7,45.3"/>
<polygon class="t12" points="13.7,45.6 15.5,46.5 16.6,46.5 18.5,45.8 19,44.9 19.3,43.5 18.5,42.5 17,43.2 15.9,43.7 14.8,45"/>
<polygon class="c13" points="19,44.9 20.3,46 21.5,45 22.4,44.7 22.7,44.2 22.3,42.3 20.5,42.3 19.3,43.5"/>
<polygon class="o7" points="21,46.2 22.9,48 24.9,47.7 26.6,48.3 28.2,47.6 28.2,45.5 29.7,45.2 28.6,44.2 27.4,44 25,43.7 22.7,44.2 22.4,44.7 20.3,46"/>
<polygon class="g5" points="20,39.6 21.1,38.3 21.7,36.8 22.9,36.5 24,38.2 22.8,39.3 22.6,40.3 23.5,40.2 24,40.8 26,40.8 26.6,41.6 24,41.6 22.7,41.3 21,40.9 20.4,40.2"/>
<polygon class="g5" points="23.5,35.5 26.3,35.3 26,34.9 23.6,35.1"/>
<polygon class="g6" points="22.7,49.1 24,50.8 23.6,51.6 26,51.9 30.5,51.5 31.8,52.1 34,52.3 35.5,50.5 38.2,50 40,49.5 39.7,47.8 38,47 35,46.2 33.5,46 32,46.5 30.8,46.6 30,45.4 29.2,45.4 28.2,45.5 28.5,46.5 29.6,48 26.6,48.3 24.9,47.7 22.9,48"/>
<polygon class="g6" points="33,45.5 34,46 36,45.4 34,44.5 33.5,44.6"/>
<polygon class="c13" points="26.6,48.3 29.6,48 28.5,46.5 28.2,45.5 28.2,47.6"/>
<polygon class="g10" points="23.5,54.2 25,54.2 25.8,54.9 26.6,55.7 28.2,56.1 30.9,55.6 30.8,54.8 32.7,53.3 31.8,52.1 30.5,51.5 26,51.9 23.6,51.6 23.6,52.7"/>
<polygon class="t12" points="21,56 21.3,55.2 23.5,54.2 25,54.2 25.8,54.9 26.6,55.7 24,56.3"/>
<polygon class="c13" points="21,56 24,56.3 26.6,55.7 28.2,56.1 27.5,57.5 25.5,57.9 24.3,57.8 23.2,57 21.8,57.5"/>
<polygon class="c13" points="23.5,58.5 24.3,57.8 25.5,57.9 27.5,57.5 28,59.4 23.5,59.3"/>
<!-- Turkey, Caucasus, Middle East -->
<polygon class="g5" points="26,40.8 26.6,41.6 28,42 31,41.2 35,42 38,41 41.5,41.5 43.5,41.1 44.8,39.7 44.2,37.3 42.3,37.1 40,36.8 36.7,36.8 36,36 35.8,36.8 34,36.3 32,36.2 30.5,36.5 29,36.7 27.4,37 26.3,38.3 26.2,39.5"/>
<polygon class="t11" points="32.3,35.1 34.6,35.7 34,34.6 32.5,34.7"/>
<polygon class="t12" points="40,43.4 43.7,42.7 46.5,41.2 48.5,41.8 49.5,40.2 49,39 48,38.4 44.8,39.7 43.5,41.1 41.5,41.5"/>
<polygon class="g10" points="35.8,36.8 36.7,36.8 40,36.8 42.3,37.1 41,34.4 38.8,33.4 36.5,32.3 35.8,33.5 36,35"/>
<polygon class="t12" points="38.8,33.4 41,34.4 42.3,37.1 44.2,37.3 45.5,35.8 45.5,34 46,33 47.7,31 48,30 47,29.1 46.5,29 44.7,29.2 42,31.2 39,32.2"/>
<polygon class="t11" points="34.2,31.3 35,33.3 35.8,33.5 36.5,32.3 38,31 37,30 35,29.4 34.9,29.5"/>
<polygon class="g9" points="36.5,32.3 39,32.2 42,31.2 44.7,29.2 46.5,29 48.4,28.5 50.2,26.5 50.8,24.8 52,23 55.5,22.5 55.7,20 52,19 49,18.6 47,17 45,17.4 43.3,17.5 42.7,16.5 41,19 39,21.5 38,24 36.5,26 34.6,28.1 35,29.4 37,30 38,31"/>
<polygon class="t12" points="42.7,16.5 43.3,17.5 45,17.4 47,17 49,18.6 52,19 53,16.6 49,14 45,12.8 43.5,12.7 42.8,15"/>
<polygon class="c13" points="55.7,20 55.5,22.5 56.2,24.6 56.4,26.3 57.2,23.8 58.8,23.5 59.8,22.5 58.5,20.5 57.8,19 56.5,17.9 55,17 53,16.6 52,19"/>
<polygon class="t12" points="51.5,24.3 54,24.1 56,26 56.2,24.6 55.5,22.5 52,23"/>
<polygon class="g6" points="44,39.4 44.8,39.7 48,38.4 49,38 49,37 51,36.7 54,37 53.9,37.3 57,38 61,36.5 61,35 60.5,33.5 61.5,31.5 60.9,29.8 64,29.5 66.5,29.8 69.3,31 69.5,33 71,34 71.5,35.5 74.5,37 75.5,36.5 77,35.5 76,34.5 75,32.5 74.5,31 71.5,28 70,27.5 69.5,26 71,24.5 68.5,23.7 67,24.8 64,25.3 61.5,25.2 59,25.4 57.3,25.8 56.5,27 54.5,26.5 52,27.5 50.8,29 50,30 48.5,29.9 48,30.5 47.7,31 46,33 45.5,34 45.5,35.8 44.5,37 44.2,37.3"/>
<polygon class="b14" points="61,36.5 62.5,35.3 64.5,36.3 66,37.5 67.5,37.3 68,37 70,37.5 71.5,36.8 74.5,37 71.5,35.5 71,34 69.5,33 69.3,31 66.5,29.8 64,29.5 60.9,29.8 61.5,31.5 60.5,33.5 61,35"/>
<!-- Central Asia -->
<polygon class="g10" points="46.5,48.5 48,50.1 50.8,51.6 57.5,51 61,52.5 61,53.8 65,55.3 70,55.2 73.4,53.9 77,53.5 81,50.8 85,49.6 87,49 85,47 83,47.2 82.5,45.5 80,45 80,42.2 75,42.8 71,42.8 69,41.4 66,42.9 65.6,43.6 61,44.5 58.5,45.6 56,45 55.5,41.3 53,42 52,42.8 51,44.5 53,46.7 51,47 49.3,46.5 48,47.3"/>
<polygon class="c13" points="56,45 58.5,45.6 61,44.5 65.6,43.6 66,42.9 69,41.4 71,42.8 73,40.8 71,40.2 68.5,39.5 67.5,37.3 66,37.5 62.5,39.9 61,41 60,42 58,42.6 56,41.3"/>
<polygon class="b15" points="52.5,41.8 53,42 55.5,41.3 56,41.3 58,42.6 60,42 61,41 62.5,39.9 66,37.5 64.5,36.3 62.5,35.3 61,36.5 57,38 53.9,37.3 53,39.5"/>
<polygon class="b14" points="71,42.8 75,42.8 80,42.2 77,41 74,39.5 71,39.5 70,40.2 73,40.8"/>
<polygon class="b15" points="67.5,37.3 68.5,39.5 71,40.2 71,39.5 74,39.5 75,37.5 71.5,36.8 70,37.5 68,37"/>
<!-- Mongolia, China, Korea, Japan -->
<polygon class="t11" points="87.8,49.2 90,50.5 92,50.7 95,50 98,51.8 102,51.5 105,50.4 108,49.3 114,50.3 116.5,49.8 117,49.6 119.5,47.5 116,46 112,45 111,44 107,42.5 105,41.6 101,42.5 96,42.7 95,44.5 91,45.2 90.5,47.5"/>
<polygon class="y1" points="73.5,39.5 75,40.8 77,41 80,42.2 80,45 82.5,45.5 83,47.2 85,47 87,49 87.8,49.2 90.5,47.5 91,45.2 95,44.5 96,42.7 101,42.5 105,41.6 107,42.5 111,44 112,45 116,46 119.5,47.5 117,49.6 119.5,52.3 123,53.5 127,50 130.5,48 134.7,48.3 133.1,45.2 131,45 130.7,42.3 129,42 128,41.4 124.4,40 121.5,39 121.5,40.8 119,39.2 118,39.1 117.8,38.2 119,37.2 120.8,37.8 122.5,37 120,35.5 119.3,34.3 120.8,32.5 121.8,31 122,29.8 121.5,28.2 120,26.7 119,25 117,23.5 114,22.3 112,21.8 110.5,20.5 109.6,21.6 108,21.6 106.7,22.8 105.3,23.3 103,22.6 101.7,22.4 101.2,21.4 100,21.7 99,22.9 98.5,24 97.6,23.9 98.7,27.5 97.5,28.3 96,29.4 94,29.2 92,28 89,28 88,27.9 86,27.9 84,28.5 81.5,30.3 79,31.5 78.8,33.3 79.4,34.5 77.8,35.5 76,35.9 75,37.3 74.5,38.5"/>
<polygon class="y1" points="108.6,19.2 110.5,20.1 111,19.6 110,18.2 108.7,18.5"/>
<polygon class="g6" points="120.2,23 121.5,25.3 122,24.7 120.8,22"/>
<polygon class="n16" points="124.4,40 128,41.4 129,42 130.7,42.3 129.7,40.8 128,39.5 127.5,39.2 126.7,37.8 125,37.7 124.6,38.5"/>
<polygon class="y4" points="126.7,37.8 128,38.5 129.5,37 129.4,35.5 127.5,34.6 126.3,34.6 126.5,36.5"/>
<polygon class="y3" points="130,31.2 131.5,31.5 132,33.5 131,34.5 132.5,35.5 135.5,35.6 136.9,37.3 138.5,37.9 140,40 140,41.3 141.5,41.2 142,39.5 141,38 140.8,36 139.8,35 139,34.7 137.5,34.7 136,33.5 135,34.3 133,34 132.3,33 131.5,31.3"/>
<polygon class="y3" points="140,41.5 141,41.8 141.6,42.6 143.3,42 145.8,43.3 144,44.1 142,45.5 141.5,43.4 140.3,43.2"/>
<!-- South Asia -->
<polygon class="y3" points="68.5,23.7 71,24.5 69.5,26 70,27.5 71.5,28 74.5,31 75,32.5 76,34.5 77,35.5 77.8,35.5 79.4,34.5 78.8,33.3 79,31.5 81.5,30.3 80,28.8 84,27.4 88,26.4 88.2,27.9 89,27 92,27 97,28.2 97,27 95,26 94,24.5 93.5,22.8 92.7,22 92.2,23.7 91.5,24 91,23.5 89,21.8 87,21.5 86.5,20.2 85,19.3 82.2,16.6 80.3,15.8 80.2,13.3 79.8,10.4 78.2,8.1 77,8.3 76.3,9.8 75,13 74.2,15.5 73,18.5 72.8,21 72.5,22.2 70.5,20.8 69,22.4"/>
<polygon class="t11" points="80,28.8 81.5,30.3 84,28.5 86,27.9 88.2,27.9 88,26.4 84,27.4"/>
<polygon class="b14" points="89,26.8 89,28.1 91.8,28.1 91.8,26.8"/>
<polygon class="g10" points="88,26.4 89,26 89,21.8 91,22.2 91.5,24 92.2,23.7 92.7,22 92.4,21 91,23 89.5,25.5"/>
<polygon class="t12" points="79.8,9.8 80.2,9.8 81.9,7.5 81.6,6.2 80.2,6 79.8,8"/>
<!-- SE Asia -->
<polygon class="b14" points="92.2,21 92.7,22 93.5,22.8 94,24.5 95,26 97,27 97,28.2 98.7,27.5 97.6,23.9 98.5,24 99,22.9 100,21.7 101.2,21.4 100.5,20.3 98.5,19.5 97.7,16.5 98.9,15.5 98.5,13 99.2,10 98.6,10 98,12 97.7,15 97,16.5 95.4,15.8 94.2,16 94.7,19 93.5,19.5 92.4,20.6"/>
<polygon class="o8" points="98.5,19.5 100.5,20.3 101,19.5 103,18 104.5,17.5 105.5,15 102.5,14.2 102.5,12.2 100.9,12.6 100,13.5 99.2,10 100.3,7.5 101,6.4 99.7,6.6 98.3,8 98.6,10 99.2,10 98.5,13 98.9,15.5 97.7,16.5"/>
<polygon class="b14" points="100.1,20.4 101,21.6 102,22.4 103,20.8 104,19.8 105,18 107,16 107.5,14 106,14.3 105.5,15 104.5,17.5 103,18 101,19.5"/>
<polygon class="o7" points="102,22.4 103,22.6 105.3,23.3 106.7,22.8 108,21.6 106.5,20 105.6,18.9 107,17 108.8,15.5 109.3,12 109,11.3 106.8,10.4 105,8.6 104.8,10.2 106.2,10.8 107.5,12.3 107.5,14 107,16 105,18 104,19.8 103,20.8"/>
<polygon class="c13" points="102.5,14.2 105.5,15 106,14.3 107.5,14 107.5,12.3 106.2,10.8 104.8,10.2 103,11 102.5,12.2"/>
<polygon class="o8" points="100,6.5 101,6.4 102.2,6.2 103.4,4.5 103.5,2.7 104.2,1.4 103.4,1.3 101.3,2.8 100.4,4.5"/>
<polygon class="o7" points="95.3,5.6 97.5,5.2 100.4,2.2 104,-1 106,-3 106,-5.8 104.5,-5.8 102,-4 100.3,-1 98.7,1.7 96.5,3.5"/>
<polygon class="o7" points="105.2,-6.8 106,-6 108.3,-6.3 111,-6.4 112.6,-6.9 114.5,-7.8 114.4,-8.7 111,-8.3 108,-7.8 106.4,-7.4"/>
<polygon class="o7" points="109,1.5 109.6,2 111,1.9 113,3.2 114,4.6 115.5,5 116.7,6.9 117.7,6 119,5 118,4.2 117.6,3 118,0.8 117.5,0.3 116.6,-1.5 116.5,-3 116,-4 114.5,-4 113,-3.2 111.5,-3 110,-1.8 109.2,-0.5"/>
<polygon class="o8" points="109.6,2 111,1.9 113,3.2 114,4.6 115.5,5 116.7,6.9 117.7,6 119,5 118,4.2 117.6,4.2 115.5,4 114,2.5 112,1.5 110,1"/>
<polygon class="o7" points="119.5,-5.5 120.4,-5.5 120.4,-2.8 121.2,-2 122.5,-4.8 123.2,-4.5 121.5,-1.5 123,-0.9 121,-0.9 120.5,0.5 122.7,1 125,1.5 124.3,0.4 120.8,0.3 120,-0.5 119,-3.2"/>
<polygon class="o7" points="115,-8.3 119,-8.6 123,-8.5 125,-8.5 127,-8.4 125,-9.5 123.5,-10.3 120,-10 116,-9"/>
<polygon class="o7" points="127.5,1.5 128.5,2 128.5,-0.5 127.5,-0.8"/>
<polygon class="o7" points="126,-3 128,-3 128,-3.8 126,-3.8"/>
<polygon class="o7" points="131,-1.2 134,-0.9 136,-2.2 138,-1.6 141,-2.6 141,-9.1 139,-8.1 137.8,-5.5 134.5,-4 132.8,-4 132,-2.8"/>
<polygon class="b15" points="141,-2.6 145,-4.5 146,-5.5 147.6,-6.1 147.8,-8 150,-10.2 149.2,-10.4 146,-8.2 143.5,-8.4 143,-9.2 141,-9.1"/>
<polygon class="b15" points="148.5,-5.5 150.5,-5.5 152,-5.8 152.5,-4.5 151.5,-4.8 150,-6.2 148.5,-6"/>
<polygon class="n16" points="124.5,-9 127,-8.3 126.5,-9.2 124.5,-10"/>
<polygon class="t11" points="120,18.5 122.3,18.5 122,16 121.6,15 122,14 124,13 123.5,13.8 121.8,14.2 120.6,14.4 120,16 119.8,17.5"/>
<polygon class="t11" points="122,7 124,6 126,6.5 126.5,8.3 125.5,9.8 123.8,8.8 122.3,7.8"/>
<polygon class="t11" points="122,11 124,12.5 125.5,11.5 124.5,9.5 123,9.2 121.9,10.7"/>
<polygon class="t11" points="117.2,8.4 119,10.2 119.7,10.6 118.5,9.3"/>
<!-- Oceania -->
<polygon class="g6" points="113.5,-22 114,-26 115,-30 115,-33.5 117.8,-35.1 120,-34 123.5,-33.9 126,-32.3 131,-31.5 134,-32.8 135.5,-34.9 137.5,-33 138,-34.3 138.5,-35.6 140,-37.7 142,-38.4 144.5,-38.3 146.5,-39 148,-37.8 150,-37.4 150.5,-35.5 151.5,-33.5 153,-31 153.6,-28.5 153,-25.5 151,-23.5 149.5,-22.3 148.8,-20.5 146.5,-19 146,-17 145.3,-14.9 143.8,-14.1 143.5,-12.8 142.5,-10.7 141.6,-12.6 141.5,-15 140.8,-17.5 139.5,-17.4 137.8,-16.3 135.5,-14.8 136,-12.2 133,-11.5 131,-11.7 130,-13 129.4,-14.9 127.8,-14.2 125.8,-14.3 123.5,-16.4 122.2,-17.9 121,-19.5 118.8,-20.3 117,-20.7 114.6,-21.8"/>
<polygon class="g6" points="144.6,-40.7 148.3,-40.9 148,-43 146.8,-43.6 145.3,-42.3"/>
<polygon class="c13" points="172.7,-34.4 174.5,-36 175.9,-37.3 178.5,-37.7 177.5,-39.2 176,-41.3 174.8,-41.3 175,-39.9 173.8,-39.2 174.6,-37 173,-35.2"/>
<polygon class="c13" points="172.8,-40.5 174.3,-41.5 173.2,-43 171.3,-44.4 170.8,-45.8 169,-46.6 166.5,-46 168.3,-44 170.5,-43 172,-41.5"/>
<polygon class="n16" points="157,-7 160,-8.5 161.5,-10 160.5,-10.2 157,-8"/>
<polygon class="n16" points="166.5,-15 168,-16 168.3,-17.5 167.5,-17"/>
<polygon class="b15" points="177.2,-17.2 178.6,-17.3 178.5,-18.3 177.3,-18"/>
<polygon class="n16" points="164,-20.2 166,-21.5 167,-22.3 165,-21.7"/>
<polygon class="n16" points="178,-15.3 180,-15.3 180,-16.5 178.5,-16.8"/>
<polygon class="c13" points="150.6,-37.7 151,-37.7 151,-38.3 150.6,-38.3"/>
<polygon class="n16" points="68.8,-48.8 70.5,-48.8 70.5,-49.6 68.8,-49.6"/>
<polygon class="o8" points="57.3,-20 57.8,-20 57.8,-20.5 57.3,-20.5"/>
<polygon class="n16" points="144.5,13.6 145,13.6 145,13.2 144.5,13.2"/>
<polygon class="g5" points="-25.5,17.2 -24.5,17.2 -24.5,16.5 -25.5,16.5"/>
<polygon class="y3" points="-17,28.6 -13.5,28.6 -13.5,27.8 -17,27.8"/>
</g>
</g>
<!-- frame -->
<rect x="158" y="106" width="1253" height="851" fill="none" stroke="#000" stroke-width="1"/>
<!-- Y ticks -->
<path stroke="#000" stroke-width="1" fill="none" d="M158,153.3h36.5M158,247.8h36.5M158,342.4h36.5M158,437h36.5M158,531.5h36.5M158,626.1h36.5M158,720.6h36.5M158,815.2h36.5M158,909.7h36.5
M158,129.6h18M158,176.9h18M158,200.6h18M158,224.2h18M158,271.5h18M158,295.1h18M158,318.8h18M158,366h18M158,389.7h18M158,413.3h18M158,460.6h18M158,484.2h18M158,507.9h18M158,555.1h18M158,578.8h18M158,602.4h18M158,649.7h18M158,673.3h18M158,697h18M158,744.3h18M158,767.9h18M158,791.5h18M158,838.8h18M158,862.5h18M158,886.1h18M158,933.4h18"/>
<!-- X ticks -->
<path stroke="#000" stroke-width="1" fill="none" d="M262.4,957v-27M436.4,957v-27M610.5,957v-27M784.5,957v-27M958.5,957v-27M1132.6,957v-27M1306.6,957v-27
M192.8,957v-13.5M227.6,957v-13.5M297.2,957v-13.5M332,957v-13.5M366.8,957v-13.5M401.6,957v-13.5M471.2,957v-13.5M506.1,957v-13.5M540.9,957v-13.5M575.7,957v-13.5M645.3,957v-13.5M680.1,957v-13.5M714.9,957v-13.5M749.7,957v-13.5M819.3,957v-13.5M854.1,957v-13.5M888.9,957v-13.5M923.7,957v-13.5M993.3,957v-13.5M1028.1,957v-13.5M1062.9,957v-13.5M1097.8,957v-13.5M1167.4,957v-13.5M1202.2,957v-13.5M1237,957v-13.5M1271.8,957v-13.5M1341.4,957v-13.5M1376.2,957v-13.5"/>
<!-- Y labels -->
<g font-size="33" text-anchor="end">
<text x="150" y="167">80</text>
<text x="150" y="261.5">60</text>
<text x="150" y="356.1">40</text>
<text x="150" y="450.7">20</text>
<text x="150" y="545.2">0</text>
<text x="150" y="639.8">−20</text>
<text x="150" y="734.3">−40</text>
<text x="150" y="828.9">−60</text>
<text x="150" y="923.4">−80</text>
</g>
<!-- X labels -->
<g font-size="33" text-anchor="middle">
<text x="262.4" y="991">−150</text>
<text x="436.4" y="991">−100</text>
<text x="610.5" y="991">−50</text>
<text x="784.5" y="991">0</text>
<text x="958.5" y="991">50</text>
<text x="1132.6" y="991">100</text>
<text x="1306.6" y="991">150</text>
</g>
<!-- titles -->
<text x="776.5" y="52.5" font-size="44.3" text-anchor="middle">ROOT Downloads per Location (GitHub excluded)</text>
<text transform="translate(61,103) rotate(-90)" font-size="34" text-anchor="end">Latitude</text>
<text x="1411" y="1025" font-size="34" text-anchor="end">Longitude</text>
<!-- colorbar -->
<g>
<rect x="1419" y="105.6" width="70" height="27" fill="#f9f90f"/>
<rect x="1419" y="132.4" width="70" height="54.6" fill="#f7e51d"/>
<rect x="1419" y="186.8" width="70" height="29.2" fill="#fbd22b"/>
<rect x="1419" y="215.8" width="70" height="54.6" fill="#f3c43b"/>
<rect x="1419" y="270.2" width="70" height="27" fill="#e3be48"/>
<rect x="1419" y="297" width="70" height="54.5" fill="#d2ba5c"/>
<rect x="1419" y="351.3" width="70" height="26.9" fill="#b3bb66"/>
<rect x="1419" y="378" width="70" height="54.2" fill="#97bf74"/>
<rect x="1419" y="432" width="70" height="54.2" fill="#76bd82"/>
<rect x="1419" y="486" width="70" height="27.2" fill="#53b990"/>
<rect x="1419" y="513" width="70" height="56.2" fill="#2db7a3"/>
<rect x="1419" y="569" width="70" height="27.2" fill="#1fafb3"/>
<rect x="1419" y="596" width="70" height="54" fill="#0fa7c3"/>
</g>
<path stroke="#000" stroke-width="1" fill="none" d="M1489,106V957
M1489,956.5h-38M1489,775.3h-38M1489,594.1h-38M1489,412.9h-38M1489,231.7h-38
M1489,902h-18.3M1489,870h-18.3M1489,847.4h-18.3M1489,829.9h-18.3M1489,815.5h-18.3M1489,803.4h-18.3M1489,792.9h-18.3M1489,783.6h-18.3
M1489,720.8h-18.3M1489,688.9h-18.3M1489,666.2h-18.3M1489,648.7h-18.3M1489,634.3h-18.3M1489,622.2h-18.3M1489,611.7h-18.3M1489,602.4h-18.3
M1489,539.6h-18.3M1489,507.7h-18.3M1489,485h-18.3M1489,467.5h-18.3M1489,453.1h-18.3M1489,441h-18.3M1489,430.5h-18.3M1489,421.2h-18.3
M1489,358.4h-18.3M1489,326.5h-18.3M1489,303.8h-18.3M1489,286.3h-18.3M1489,271.9h-18.3M1489,259.8h-18.3M1489,249.3h-18.3M1489,240h-18.3
M1489,177.2h-18.3M1489,145.3h-18.3M1489,122.6h-18.3"/>
<g font-size="33">
<text x="1509" y="968.5">1</text>
<text x="1509" y="787.5">10</text>
<text x="1509" y="610" textLength="29" lengthAdjust="spacingAndGlyphs">10</text>
<text x="1541" y="598.1" font-size="24">2</text>
<text x="1509" y="428.8" textLength="29" lengthAdjust="spacingAndGlyphs">10</text>
<text x="1541" y="416.9" font-size="24">3</text>
<text x="1509" y="247.6" textLength="29" lengthAdjust="spacingAndGlyphs">10</text>
<text x="1541" y="235.7" font-size="24">4</text>
</g>
</svg>
</body></html>
